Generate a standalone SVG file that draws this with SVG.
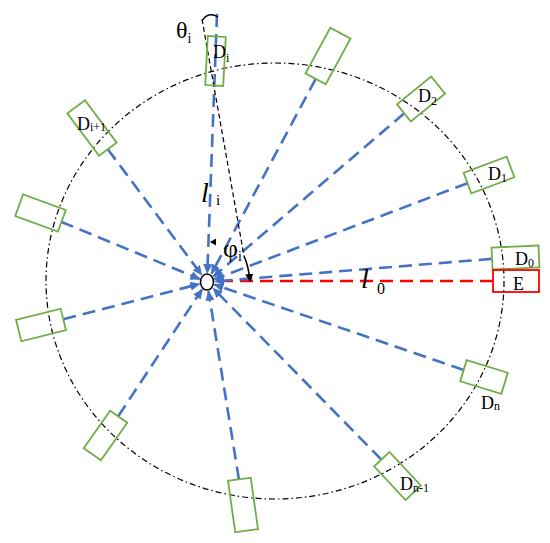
<svg xmlns="http://www.w3.org/2000/svg" width="550" height="543" viewBox="0 0 550 543">
<style>
.det{fill:none;stroke:#70AD47;stroke-width:1.8}
.ray{fill:none;stroke:#4472C4;stroke-width:2.6;stroke-dasharray:13 7;marker-end:url(#ab)}
.lbl{font-family:"Liberation Serif","Times New Roman",serif;font-size:18px;fill:#000}
.sub{font-size:12px}
.it{font-family:"Liberation Serif","Times New Roman",serif;font-style:italic;font-size:28px;fill:#000}
</style>
<defs>
<marker id="ab" markerUnits="userSpaceOnUse" markerWidth="10" markerHeight="9" refX="9" refY="4.5" orient="auto">
<path d="M0,0 L10,4.5 L0,9 z" fill="#4472C4"/>
</marker>
<marker id="ak" markerUnits="userSpaceOnUse" markerWidth="8" markerHeight="8" refX="7" refY="4" orient="auto">
<path d="M0,0 L8,4 L0,8 z" fill="#000"/>
</marker>
</defs>
<rect width="550" height="543" fill="#fff"/>
<ellipse id="ring" cx="275" cy="281" rx="229" ry="218" fill="none" stroke="#000" stroke-width="1.2" stroke-dasharray="6 3 1.5 3"/>
<g id="connectors">
<line class="ray" x1="217" y1="14" x2="207.3" y2="273"/>
<line class="ray" x1="315.7" y1="78.9" x2="211.5" y2="273.6"/>
<line class="ray" x1="404.3" y1="113.3" x2="213.5" y2="276.5"/>
<line class="ray" x1="467.5" y1="183.2" x2="214.5" y2="279.2"/>
<line x1="493" y1="281" x2="220" y2="281" stroke="#FF0000" stroke-width="2.6" stroke-dasharray="13 7"/>
<line class="ray" x1="491.6" y1="258.9" x2="215" y2="281.4"/>
<line class="ray" x1="463.7" y1="370" x2="214.6" y2="284.6"/>
<line class="ray" x1="381.4" y1="459.6" x2="213.3" y2="288.4"/>
<line class="ray" x1="238.9" y1="479.3" x2="208.5" y2="291.4"/>
<line class="ray" x1="118.2" y1="416.3" x2="202" y2="289.5"/>
<line class="ray" x1="63.3" y1="319.2" x2="199.3" y2="284"/>
<line class="ray" x1="61" y1="221.7" x2="199.6" y2="279"/>
<line class="ray" x1="107.8" y1="149.2" x2="201.6" y2="274.8"/>
<line x1="202" y1="19" x2="244" y2="256" stroke="#000" stroke-width="1.2" stroke-dasharray="5 3"/>
<path d="M244,256 Q248.5,266 250,281" fill="none" stroke="#000" stroke-width="1.6" marker-end="url(#ak)"/>
<path d="M210,242 L216,238.5 L216,245.5 z" fill="#000"/>
<path d="M202,21 Q208,11 218,17" fill="none" stroke="#000" stroke-width="1.3"/>
</g>
<g id="center">
<ellipse cx="207" cy="282" rx="6.5" ry="8" fill="#fff" stroke="#000" stroke-width="1.5"/>
</g>
<g id="Di">
<rect class="det" x="-9" y="-24.5" width="18" height="49" transform="translate(215.5,61) rotate(3)"/>
<text class="lbl" x="213" y="58">D<tspan class="sub" dy="4">i</tspan></text>
</g>
<g id="Dtr">
<rect class="det" x="-11.5" y="-26" width="23" height="52" transform="translate(328,56) rotate(28.5)"/>
</g>
<g id="D2">
<rect class="det" x="-11" y="-22" width="22" height="44" transform="translate(421,99) rotate(51)"/>
<text class="lbl" x="418" y="102">D<tspan class="sub" dy="3">2</tspan></text>
</g>
<g id="D1">
<rect class="det" x="-11" y="-23" width="22" height="46" transform="translate(489,175) rotate(69.5)"/>
<text class="lbl" x="488" y="180">D<tspan class="sub" dy="2">1</tspan></text>
</g>
<g id="D0">
<rect class="det" x="-11" y="-23.5" width="22" height="47" transform="translate(515.5,257.5) rotate(87.5)"/>
<text class="lbl" x="515" y="265">D<tspan class="sub" dy="2">0</tspan></text>
</g>
<g id="E">
<rect x="493" y="270" width="46" height="22" fill="none" stroke="#FF0000" stroke-width="1.8"/>
<text class="lbl" x="513" y="290">E</text>
</g>
<g id="Dn">
<rect class="det" x="-11" y="-21.5" width="22" height="43" transform="translate(484,377) rotate(-73)"/>
<text class="lbl" x="481" y="409">D<tspan class="sub" dy="1">n</tspan></text>
</g>
<g id="Dn-1">
<rect class="det" x="-10.5" y="-23" width="21" height="46" transform="translate(397.5,476) rotate(-43)"/>
<text class="lbl" x="400" y="490">D<tspan class="sub" dy="2">n-1</tspan></text>
</g>
<g id="Dbottom">
<rect class="det" x="-11.5" y="-26" width="23" height="52" transform="translate(243,505) rotate(-8)"/>
</g>
<g id="Dbl">
<rect class="det" x="-10.5" y="-23" width="21" height="46" transform="translate(105.5,435.5) rotate(35)"/>
</g>
<g id="Dll">
<rect class="det" x="-11" y="-23" width="22" height="46" transform="translate(41,325) rotate(76)"/>
</g>
<g id="Dlu">
<rect class="det" x="-11.5" y="-22.75" width="23" height="45.5" transform="translate(40.5,213) rotate(110)"/>
</g>
<g id="Di1">
<rect class="det" x="-11" y="-26.5" width="22" height="53" transform="translate(92,128) rotate(143.3)"/>
<text class="lbl" x="77" y="130">D<tspan class="sub" dy="1">i+1</tspan></text>
</g>
<g id="labels">
<text class="lbl" x="176" y="38" style="font-size:24px">θ<tspan class="sub" dy="5" style="font-size:14px">i</tspan></text>
<text class="it" x="201" y="202">l</text>
<text class="lbl" x="216" y="205" style="font-size:15px">i</text>
<text class="lbl" x="223" y="257" style="font-size:26px">φ<tspan dy="4" style="font-size:14px">i</tspan></text>
<text class="it" x="361" y="288">l</text>
<text class="lbl" x="377" y="294" style="font-size:16px">0</text>
</g>
</svg>
